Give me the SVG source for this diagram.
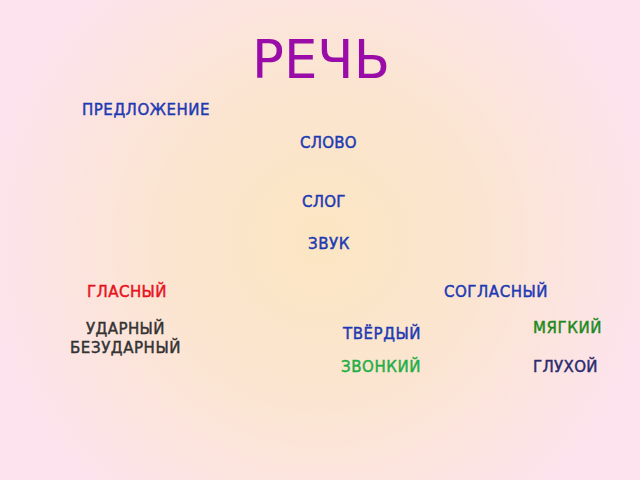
<svg xmlns="http://www.w3.org/2000/svg" width="640" height="480" viewBox="0 0 640 480">
<defs>
<radialGradient id="bg" cx="320" cy="240" r="340" gradientUnits="userSpaceOnUse">
<stop offset="0" stop-color="#fbe6c2"/>
<stop offset="0.5" stop-color="#fbe5d2"/>
<stop offset="1" stop-color="#fde3ee"/>
</radialGradient>
</defs>
<style>
text{font-family:"DejaVu Sans","Liberation Sans",sans-serif;font-size:15px;letter-spacing:0.5px;stroke-width:0.45px}
.t{font-size:53px;fill:#9a0ca8;letter-spacing:0;stroke:none}
.b{fill:#1d3ab4;stroke:#1d3ab4}
.r{fill:#e8121e;stroke:#e8121e}
.g{fill:#333333;stroke:#333333}
.dg{fill:#1c8a1c;stroke:#1c8a1c}
.lg{fill:#1fae45;stroke:#1fae45}
.n{fill:#2b2b6e;stroke:#2b2b6e}
</style>
<rect width="640" height="480" fill="url(#bg)"/>
<g id="title"><text class="t" x="252" y="78" textLength="138" lengthAdjust="spacingAndGlyphs">РЕЧЬ</text></g>
<g id="predlozhenie"><text class="b" x="82" y="115" textLength="128">ПРЕДЛОЖЕНИЕ</text></g>
<g id="slovo"><text class="b" x="300" y="148" textLength="57">СЛОВО</text></g>
<g id="slog"><text class="b" x="302" y="207" textLength="44">СЛОГ</text></g>
<g id="zvuk"><text class="b" x="308" y="249" textLength="42">ЗВУК</text></g>
<g id="glasny"><text class="r" x="87" y="297" textLength="80">ГЛАСНЫЙ</text></g>
<g id="soglasny"><text class="b" x="444" y="297" textLength="104">СОГЛАСНЫЙ</text></g>
<g id="udarny"><text class="g" x="86" y="334" textLength="79">УДАРНЫЙ</text></g>
<g id="bezudarny"><text class="g" x="70" y="353" textLength="111">БЕЗУДАРНЫЙ</text></g>
<g id="tverdy"><text class="b" x="343" y="339" textLength="78">ТВЁРДЫЙ</text></g>
<g id="myagky"><text class="dg" x="533" y="333" textLength="69">МЯГКИЙ</text></g>
<g id="zvonky"><text class="lg" x="341" y="372" textLength="80">ЗВОНКИЙ</text></g>
<g id="glukhoy"><text class="n" x="533" y="372" textLength="65">ГЛУХОЙ</text></g>
<g id="connectors"></g>
</svg>
